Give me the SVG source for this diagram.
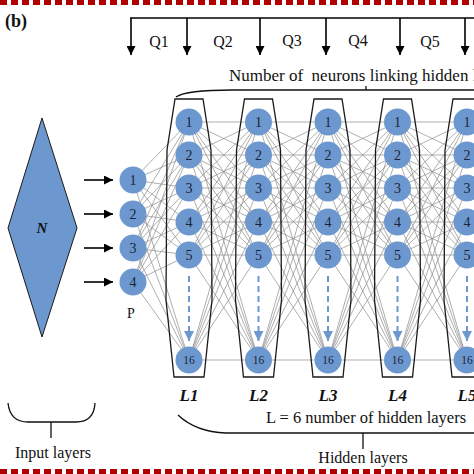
<svg xmlns="http://www.w3.org/2000/svg" xmlns:xlink="http://www.w3.org/1999/xlink" width="474" height="474" viewBox="0 0 474 474">
<style>
.t{font-family:"Liberation Serif","Times New Roman",serif;fill:#111}
.nt{font-family:"Liberation Serif","Times New Roman",serif;font-size:14px;fill:#1b2436;text-anchor:middle}
.n16{font-size:11.5px}
.neu{fill:#6d98cf}
.conn{stroke:#8c8c8c;stroke-width:0.7;fill:none}
.col{stroke:#1a1a1a;stroke-width:1.3;fill:none}
.blk{stroke:#000;stroke-width:1.6;fill:none}
.br{stroke:#111;stroke-width:1.3;fill:none}
.dash{stroke:#b00000;stroke-width:5;stroke-dasharray:7 4;fill:none}
.lab{font-family:"Liberation Serif","Times New Roman",serif;font-size:17px;font-weight:bold;font-style:italic;fill:#111;text-anchor:middle}
</style>
<defs>
<marker id="ah" viewBox="0 0 10 10" refX="10" refY="5" markerWidth="10" markerHeight="9" orient="auto" markerUnits="userSpaceOnUse">
<path d="M0 0L10 5L0 10z" fill="#000"/>
</marker>
<marker id="ahb" viewBox="0 0 10 10" refX="10" refY="5" markerWidth="10" markerHeight="10" orient="auto" markerUnits="userSpaceOnUse">
<path d="M0 0L10 5L0 10z" fill="#6d98cf"/>
</marker>
<path id="gap" d="M0 122L69.5 122M0 122L69.5 155M0 122L69.5 188M0 122L69.5 222M0 122L69.5 255M0 122L69.5 360M0 155L69.5 122M0 155L69.5 155M0 155L69.5 188M0 155L69.5 222M0 155L69.5 255M0 155L69.5 360M0 188L69.5 122M0 188L69.5 155M0 188L69.5 188M0 188L69.5 222M0 188L69.5 255M0 188L69.5 360M0 222L69.5 122M0 222L69.5 155M0 222L69.5 188M0 222L69.5 222M0 222L69.5 255M0 222L69.5 360M0 255L69.5 122M0 255L69.5 155M0 255L69.5 188M0 255L69.5 222M0 255L69.5 255M0 255L69.5 360M0 360L69.5 122M0 360L69.5 155M0 360L69.5 188M0 360L69.5 222M0 360L69.5 255M0 360L69.5 360"/>
<path id="colshape" d="M-14 99L14 99L22 150L23 300L15 377L-15 377L-23 300L-22 150Z"/>
</defs>

<!-- frame dashes -->
<path class="dash" d="M0 2.5H474"/>
<path class="dash" d="M0 471.5H474"/>

<text class="t" x="5" y="27" font-size="18" font-weight="bold">(b)</text>

<!-- connectors -->
<g id="connectors">
<g class="conn">
<path d="M133 180L189 122M133 180L189 155M133 180L189 188M133 180L189 222M133 180L189 255M133 180L189 360M133 214L189 122M133 214L189 155M133 214L189 188M133 214L189 222M133 214L189 255M133 214L189 360M133 248L189 122M133 248L189 155M133 248L189 188M133 248L189 222M133 248L189 255M133 248L189 360M133 282L189 122M133 282L189 155M133 282L189 188M133 282L189 222M133 282L189 255M133 282L189 360"/>
<use xlink:href="#gap" href="#gap" x="189"/>
<use xlink:href="#gap" href="#gap" x="258.5"/>
<use xlink:href="#gap" href="#gap" x="328"/>
<use xlink:href="#gap" href="#gap" x="397.5"/>
</g>
<!-- input arrows -->
<g class="blk" marker-end="url(#ah)">
<path d="M84 180H113"/>
<path d="M84 214H113"/>
<path d="M84 248H113"/>
<path d="M84 282H113"/>
</g>
<!-- Q arrows -->
<path class="blk" d="M130 18H474"/>
<g class="blk" marker-end="url(#ah)">
<path d="M131 18V55"/>
<path d="M187 18V55"/>
<path d="M260 18V55"/>
<path d="M326 18V55"/>
<path d="M400 18V55"/>
<path d="M465 18V55"/>
</g>
<!-- dashed blue arrows -->
<g stroke="#6d98cf" stroke-width="2" stroke-dasharray="6 4" fill="none" marker-end="url(#ahb)">
<path d="M189 276V341"/>
<path d="M258.5 276V341"/>
<path d="M328 276V341"/>
<path d="M397.5 276V341"/>
<path d="M467 276V341"/>
</g>
</g>

<!-- column outlines -->
<g id="columns" class="col">
<use xlink:href="#colshape" href="#colshape" x="189"/>
<use xlink:href="#colshape" href="#colshape" x="258.5"/>
<use xlink:href="#colshape" href="#colshape" x="328"/>
<use xlink:href="#colshape" href="#colshape" x="397.5"/>
<use xlink:href="#colshape" href="#colshape" x="467"/>
</g>

<!-- input diamond -->
<g id="N">
<path d="M42 118L77 228L42 337L8 228Z" fill="#6d98cf" stroke="#1a1a1a" stroke-width="1"/>
<text class="t" x="42" y="233" font-size="15" font-weight="bold" font-style="italic" text-anchor="middle">N</text>
</g>

<!-- input neurons -->
<g id="P1"><circle class="neu" cx="133" cy="180" r="13.5"/><text class="nt" x="133" y="185">1</text></g>
<g id="P2"><circle class="neu" cx="133" cy="214" r="13.5"/><text class="nt" x="133" y="219">2</text></g>
<g id="P3"><circle class="neu" cx="133" cy="248" r="13.5"/><text class="nt" x="133" y="253">3</text></g>
<g id="P4"><circle class="neu" cx="133" cy="282" r="13.5"/><text class="nt" x="133" y="287">4</text></g>
<text class="t" x="131" y="318" font-size="14" text-anchor="middle">P</text>

<!-- hidden layers -->
<g id="L1">
<g id="L1n1"><circle class="neu" cx="189" cy="122" r="13.5"/><text class="nt" x="189" y="127">1</text></g>
<g id="L1n2"><circle class="neu" cx="189" cy="155" r="13.5"/><text class="nt" x="189" y="160">2</text></g>
<g id="L1n3"><circle class="neu" cx="189" cy="188" r="13.5"/><text class="nt" x="189" y="193">3</text></g>
<g id="L1n4"><circle class="neu" cx="189" cy="222" r="13.5"/><text class="nt" x="189" y="227">4</text></g>
<g id="L1n5"><circle class="neu" cx="189" cy="255" r="13.5"/><text class="nt" x="189" y="260">5</text></g>
<g id="L1n16"><circle class="neu" cx="189" cy="360" r="13.5"/><text class="nt n16" x="189" y="364">16</text></g>
</g>
<g id="L2">
<g id="L2n1"><circle class="neu" cx="258.5" cy="122" r="13.5"/><text class="nt" x="258.5" y="127">1</text></g>
<g id="L2n2"><circle class="neu" cx="258.5" cy="155" r="13.5"/><text class="nt" x="258.5" y="160">2</text></g>
<g id="L2n3"><circle class="neu" cx="258.5" cy="188" r="13.5"/><text class="nt" x="258.5" y="193">3</text></g>
<g id="L2n4"><circle class="neu" cx="258.5" cy="222" r="13.5"/><text class="nt" x="258.5" y="227">4</text></g>
<g id="L2n5"><circle class="neu" cx="258.5" cy="255" r="13.5"/><text class="nt" x="258.5" y="260">5</text></g>
<g id="L2n16"><circle class="neu" cx="258.5" cy="360" r="13.5"/><text class="nt n16" x="258.5" y="364">16</text></g>
</g>
<g id="L3">
<g id="L3n1"><circle class="neu" cx="328" cy="122" r="13.5"/><text class="nt" x="328" y="127">1</text></g>
<g id="L3n2"><circle class="neu" cx="328" cy="155" r="13.5"/><text class="nt" x="328" y="160">2</text></g>
<g id="L3n3"><circle class="neu" cx="328" cy="188" r="13.5"/><text class="nt" x="328" y="193">3</text></g>
<g id="L3n4"><circle class="neu" cx="328" cy="222" r="13.5"/><text class="nt" x="328" y="227">4</text></g>
<g id="L3n5"><circle class="neu" cx="328" cy="255" r="13.5"/><text class="nt" x="328" y="260">5</text></g>
<g id="L3n16"><circle class="neu" cx="328" cy="360" r="13.5"/><text class="nt n16" x="328" y="364">16</text></g>
</g>
<g id="L4">
<g id="L4n1"><circle class="neu" cx="397.5" cy="122" r="13.5"/><text class="nt" x="397.5" y="127">1</text></g>
<g id="L4n2"><circle class="neu" cx="397.5" cy="155" r="13.5"/><text class="nt" x="397.5" y="160">2</text></g>
<g id="L4n3"><circle class="neu" cx="397.5" cy="188" r="13.5"/><text class="nt" x="397.5" y="193">3</text></g>
<g id="L4n4"><circle class="neu" cx="397.5" cy="222" r="13.5"/><text class="nt" x="397.5" y="227">4</text></g>
<g id="L4n5"><circle class="neu" cx="397.5" cy="255" r="13.5"/><text class="nt" x="397.5" y="260">5</text></g>
<g id="L4n16"><circle class="neu" cx="397.5" cy="360" r="13.5"/><text class="nt n16" x="397.5" y="364">16</text></g>
</g>
<g id="L5">
<g id="L5n1"><circle class="neu" cx="467" cy="122" r="13.5"/><text class="nt" x="467" y="127">1</text></g>
<g id="L5n2"><circle class="neu" cx="467" cy="155" r="13.5"/><text class="nt" x="467" y="160">2</text></g>
<g id="L5n3"><circle class="neu" cx="467" cy="188" r="13.5"/><text class="nt" x="467" y="193">3</text></g>
<g id="L5n4"><circle class="neu" cx="467" cy="222" r="13.5"/><text class="nt" x="467" y="227">4</text></g>
<g id="L5n5"><circle class="neu" cx="467" cy="255" r="13.5"/><text class="nt" x="467" y="260">5</text></g>
<g id="L5n16"><circle class="neu" cx="467" cy="360" r="13.5"/><text class="nt n16" x="467" y="364">16</text></g>
</g>

<!-- layer labels -->
<text class="lab" x="189" y="401">L1</text>
<text class="lab" x="258.5" y="401">L2</text>
<text class="lab" x="328" y="401">L3</text>
<text class="lab" x="397.5" y="401">L4</text>
<text class="lab" x="467" y="401">L5</text>

<!-- Q labels -->
<g class="t" font-size="16" text-anchor="middle">
<text x="159" y="47">Q1</text>
<text x="223" y="47">Q2</text>
<text x="292" y="46">Q3</text>
<text x="358" y="46">Q4</text>
<text x="430" y="47">Q5</text>
</g>

<!-- neurons bracket -->
<path class="br" d="M176 97Q186 90 232 90L474 90M366 86V90"/>
<text class="t" x="229" y="81" font-size="17" xml:space="preserve">Number of  neurons linking hidden layers</text>

<!-- bottom brackets -->
<path class="br" d="M8 403Q10 422 28 422L76 422Q94 422 95 403M51 422V438"/>
<text class="t" x="53" y="458" font-size="16" text-anchor="middle">Input layers</text>
<path class="br" d="M178 415Q196 432 226 433L474 433M363 433V449"/>
<text class="t" x="366" y="423" font-size="16.5" text-anchor="middle">L = 6 number of hidden layers</text>
<text class="t" x="363" y="463" font-size="16" text-anchor="middle">Hidden layers</text>
</svg>
